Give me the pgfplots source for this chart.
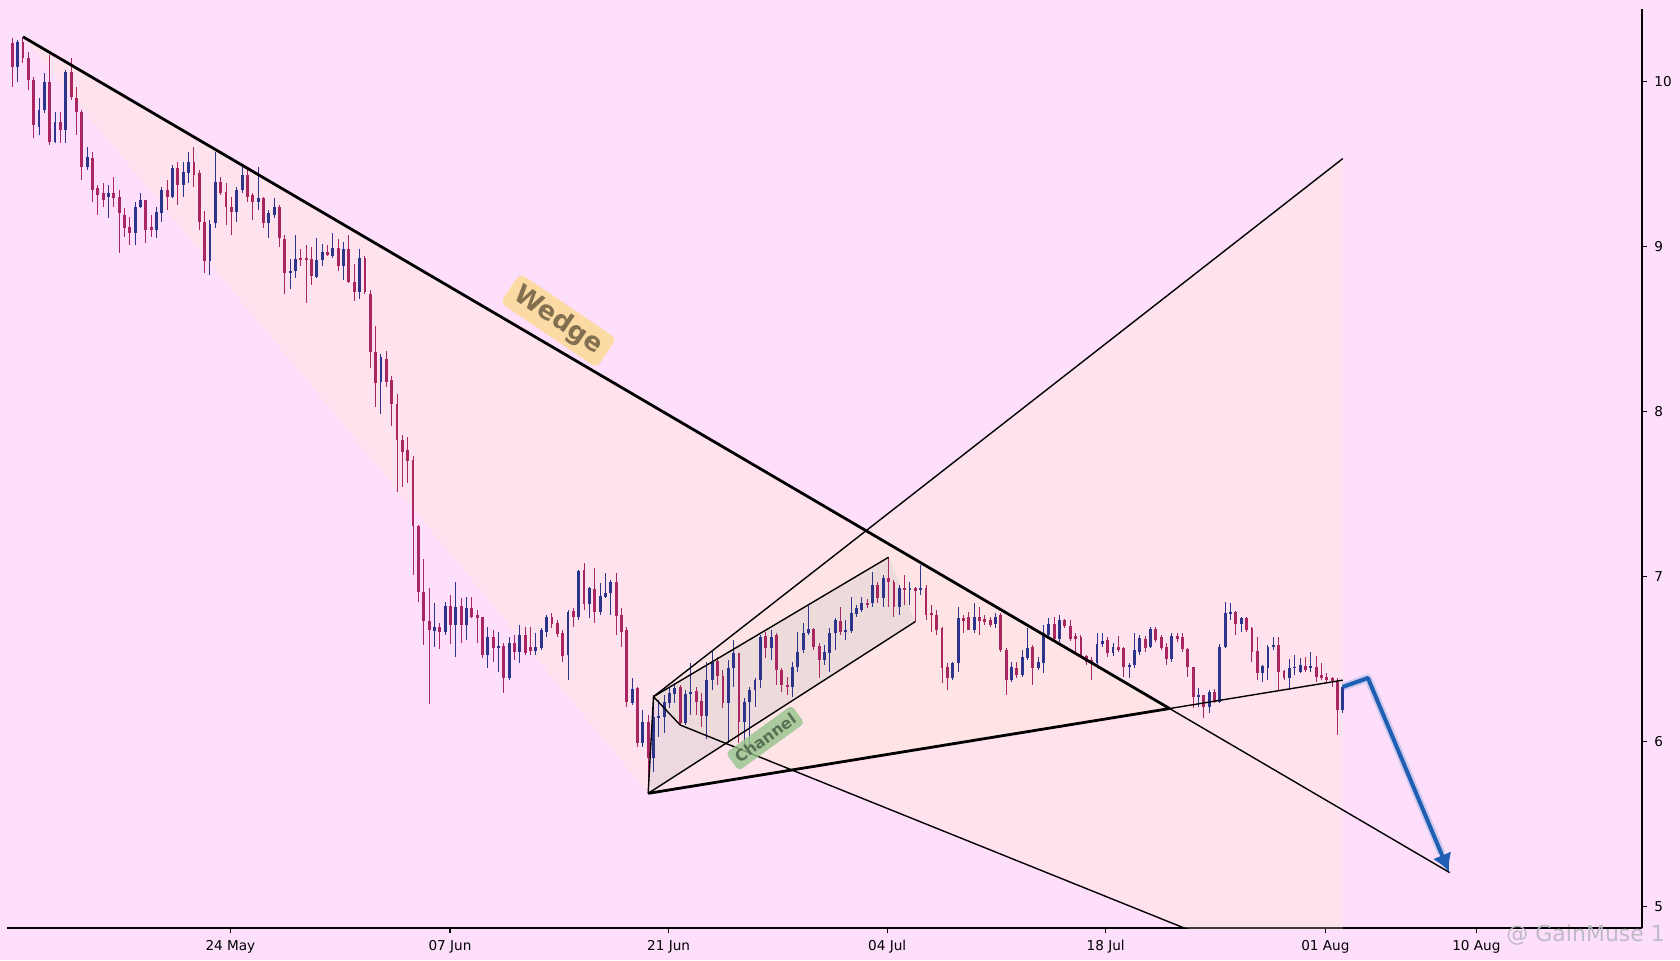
\documentclass[border=0pt]{standalone}
\usepackage{pgfplots}
\pgfplotsset{compat=1.18}
\usepackage{pgfplotstable}
\usepackage{fontspec}
\setmainfont{DejaVu Sans}
\usetikzlibrary{arrows.meta}

\definecolor{bg}{RGB}{254,223,251}
\definecolor{upc}{RGB}{45,52,140}
\definecolor{dnc}{RGB}{170,38,96}
\definecolor{wfill}{RGB}{255,235,200}
\definecolor{chfill}{RGB}{190,190,190}
\definecolor{arrowc}{RGB}{30,95,180}
\definecolor{wbox}{RGB}{252,218,155}
\definecolor{wtext}{RGB}{130,112,80}
\definecolor{cbox}{RGB}{150,196,140}
\definecolor{ctext}{RGB}{88,112,84}
\definecolor{wmc}{RGB}{185,183,195}

% 8h candles: index, open, high, low, close
\pgfplotstableread{
i o h l c
0 10.231 10.261 9.968 10.089
1 10.089 10.251 9.998 10.241
2 10.241 10.271 10.109 10.140
3 10.140 10.180 9.948 10.008
4 10.008 10.029 9.655 9.736
5 9.725 9.897 9.675 9.827
6 9.827 10.049 9.806 9.998
7 9.998 10.160 9.614 9.635
8 9.635 9.816 9.625 9.756
9 9.756 9.816 9.625 9.705
10 9.705 10.069 9.625 10.059
11 10.059 10.140 9.887 9.907
12 9.897 9.968 9.675 9.816
13 9.816 9.827 9.402 9.483
14 9.483 9.604 9.463 9.544
15 9.534 9.574 9.271 9.342
16 9.352 9.372 9.190 9.311
17 9.322 9.382 9.241 9.281
18 9.301 9.372 9.170 9.322
19 9.322 9.423 9.241 9.296
20 9.301 9.342 8.958 9.200
21 9.190 9.231 9.059 9.109
22 9.119 9.180 9.008 9.079
23 9.079 9.271 9.008 9.241
24 9.241 9.322 9.231 9.281
25 9.281 9.281 9.018 9.099
26 9.119 9.190 9.059 9.099
27 9.099 9.241 9.049 9.210
28 9.200 9.362 9.150 9.342
29 9.342 9.402 9.220 9.301
30 9.301 9.493 9.291 9.473
31 9.473 9.513 9.251 9.372
32 9.372 9.513 9.301 9.453
33 9.443 9.574 9.382 9.513
34 9.513 9.604 9.362 9.433
35 9.443 9.463 9.099 9.150
36 9.150 9.214 8.838 8.912
37 8.912 9.162 8.828 9.135
38 9.140 9.574 9.109 9.392
39 9.392 9.423 9.311 9.322
40 9.332 9.382 9.130 9.241
41 9.241 9.301 9.069 9.210
42 9.210 9.362 9.150 9.342
43 9.342 9.483 9.322 9.433
44 9.433 9.463 9.271 9.301
45 9.311 9.322 9.160 9.271
46 9.271 9.483 9.220 9.291
47 9.291 9.300 9.109 9.140
48 9.140 9.220 9.049 9.200
49 9.190 9.291 9.170 9.241
50 9.241 9.251 8.998 9.049
51 9.047 9.068 8.713 8.838
52 8.838 8.922 8.744 8.849
53 8.849 9.072 8.807 8.926
54 8.926 8.985 8.880 8.918
55 8.926 9.006 8.655 8.918
56 8.922 8.995 8.765 8.822
57 8.817 9.051 8.807 8.918
58 8.918 9.016 8.880 8.964
59 8.964 9.010 8.939 8.947
60 8.943 9.079 8.932 8.989
61 8.989 9.047 8.849 8.880
62 8.880 9.026 8.797 8.985
63 8.985 9.068 8.776 8.786
64 8.786 8.891 8.671 8.724
65 8.724 8.985 8.682 8.932
66 8.932 8.943 8.713 8.724
67 8.713 8.734 8.264 8.358
68 8.358 8.515 8.024 8.170
69 8.180 8.348 7.982 8.327
70 8.316 8.368 8.149 8.180
71 8.191 8.212 7.909 8.045
72 8.045 8.107 7.512 7.825
73 7.825 7.857 7.543 7.752
74 7.763 7.846 7.564 7.700
75 7.706 7.731 7.011 7.303
76 7.303 7.313 6.843 6.906
77 6.906 7.105 6.582 6.729
78 6.729 6.927 6.227 6.676
79 6.670 6.837 6.572 6.691
80 6.691 6.718 6.562 6.662
81 6.662 6.843 6.645 6.823
82 6.823 6.885 6.593 6.708
83 6.708 6.969 6.509 6.816
84 6.820 6.867 6.594 6.705
85 6.705 6.877 6.615 6.806
86 6.806 6.877 6.746 6.756
87 6.766 6.796 6.594 6.746
88 6.752 6.756 6.503 6.524
89 6.524 6.695 6.443 6.635
90 6.635 6.675 6.483 6.564
91 6.564 6.665 6.423 6.578
92 6.578 6.594 6.291 6.382
93 6.382 6.635 6.372 6.594
94 6.594 6.645 6.493 6.544
95 6.544 6.705 6.473 6.645
96 6.645 6.695 6.524 6.534
97 6.574 6.695 6.524 6.550
98 6.550 6.655 6.524 6.570
99 6.564 6.685 6.554 6.675
100 6.665 6.766 6.635 6.756
101 6.756 6.776 6.685 6.711
102 6.719 6.736 6.635 6.651
103 6.655 6.675 6.483 6.518
104 6.524 6.796 6.372 6.786
105 6.792 6.806 6.695 6.756
106 6.756 7.039 6.736 7.035
107 7.039 7.079 6.796 6.833
108 6.833 6.938 6.746 6.928
109 6.922 7.049 6.716 6.786
110 6.786 6.958 6.766 6.881
111 6.877 7.019 6.867 6.901
112 6.897 6.978 6.766 6.968
113 6.968 7.019 6.645 6.760
114 6.766 6.806 6.574 6.665
115 6.675 6.695 6.211 6.241
116 6.235 6.382 6.221 6.316
117 6.322 6.332 5.968 5.988
118 5.988 6.190 5.968 6.120
119 6.120 6.160 5.685 5.897
120 5.897 6.271 5.817 6.146
121 6.146 6.251 6.029 6.154
122 6.150 6.281 6.049 6.241
123 6.235 6.332 6.200 6.291
124 6.287 6.352 6.231 6.322
125 6.332 6.342 6.099 6.109
126 6.109 6.311 6.099 6.287
127 6.287 6.473 6.160 6.301
128 6.307 6.332 6.160 6.241
129 6.247 6.291 6.089 6.154
130 6.154 6.483 6.013 6.372
131 6.372 6.554 6.311 6.483
132 6.489 6.514 6.342 6.396
133 6.396 6.433 6.200 6.231
134 6.231 6.493 5.988 6.443
135 6.443 6.614 6.332 6.534
136 6.534 6.534 5.988 6.120
137 6.120 6.261 5.968 6.241
138 6.241 6.332 5.968 6.311
139 6.311 6.382 6.210 6.372
140 6.372 6.645 6.322 6.635
141 6.639 6.665 6.503 6.564
142 6.564 6.675 6.493 6.635
143 6.645 6.655 6.342 6.433
144 6.433 6.443 6.301 6.342
145 6.342 6.392 6.281 6.332
146 6.332 6.483 6.271 6.453
147 6.453 6.665 6.423 6.544
148 6.554 6.716 6.534 6.655
149 6.659 6.821 6.645 6.679
150 6.679 6.685 6.554 6.574
151 6.578 6.594 6.382 6.493
152 6.493 6.584 6.463 6.544
153 6.538 6.685 6.423 6.655
154 6.655 6.746 6.554 6.736
155 6.732 6.812 6.645 6.665
156 6.665 6.736 6.615 6.675
157 6.671 6.877 6.655 6.776
158 6.772 6.827 6.756 6.806
159 6.796 6.877 6.786 6.841
160 6.841 6.861 6.806 6.827
161 6.837 7.029 6.817 6.948
162 6.948 6.968 6.837 6.867
163 6.867 7.008 6.817 6.988
164 6.988 7.116 6.817 6.968
165 6.968 6.978 6.756 6.817
166 6.817 6.948 6.766 6.928
167 6.928 7.008 6.827 6.918
168 6.918 6.968 6.827 6.928
169 6.928 6.938 6.726 6.914
170 6.918 7.069 6.887 6.928
171 6.928 6.948 6.736 6.766
172 6.776 6.827 6.665 6.766
173 6.766 6.796 6.645 6.675
174 6.685 6.695 6.352 6.443
175 6.453 6.473 6.311 6.382
176 6.382 6.483 6.372 6.473
177 6.473 6.816 6.423 6.746
178 6.746 6.766 6.659 6.732
179 6.756 6.786 6.675 6.675
180 6.675 6.837 6.655 6.756
181 6.756 6.817 6.645 6.732
182 6.740 6.766 6.705 6.726
183 6.736 6.756 6.691 6.705
184 6.711 6.776 6.685 6.756
185 6.766 6.776 6.544 6.554
186 6.554 6.564 6.281 6.372
187 6.372 6.483 6.362 6.453
188 6.443 6.483 6.382 6.402
189 6.402 6.554 6.392 6.513
190 6.503 6.685 6.493 6.564
191 6.574 6.584 6.342 6.443
192 6.443 6.513 6.433 6.483
193 6.477 6.705 6.413 6.655
194 6.645 6.746 6.619 6.711
195 6.711 6.756 6.604 6.618
196 6.618 6.766 6.604 6.736
197 6.736 6.740 6.685 6.699
198 6.699 6.736 6.610 6.618
199 6.639 6.655 6.534 6.618
200 6.631 6.645 6.503 6.518
201 6.518 6.524 6.463 6.483
202 6.493 6.513 6.372 6.473
203 6.473 6.655 6.463 6.590
204 6.590 6.659 6.574 6.610
205 6.614 6.631 6.513 6.534
206 6.534 6.594 6.518 6.574
207 6.574 6.639 6.544 6.554
208 6.564 6.570 6.392 6.453
209 6.449 6.473 6.382 6.463
210 6.463 6.655 6.443 6.554
211 6.544 6.645 6.524 6.625
212 6.619 6.639 6.544 6.564
213 6.570 6.691 6.564 6.679
214 6.679 6.691 6.604 6.614
215 6.631 6.645 6.554 6.564
216 6.574 6.594 6.463 6.497
217 6.497 6.655 6.483 6.639
218 6.639 6.655 6.604 6.618
219 6.631 6.655 6.544 6.558
220 6.558 6.564 6.392 6.449
221 6.453 6.453 6.200 6.271
222 6.271 6.322 6.210 6.281
223 6.281 6.281 6.140 6.210
224 6.210 6.311 6.170 6.301
225 6.301 6.316 6.231 6.241
226 6.241 6.590 6.231 6.574
227 6.574 6.847 6.564 6.776
228 6.776 6.837 6.736 6.786
229 6.786 6.792 6.645 6.711
230 6.711 6.756 6.665 6.746
231 6.746 6.756 6.665 6.675
232 6.685 6.691 6.483 6.544
233 6.550 6.631 6.372 6.413
234 6.413 6.463 6.362 6.457
235 6.443 6.584 6.372 6.574
236 6.574 6.631 6.554 6.584
237 6.584 6.631 6.311 6.423
238 6.429 6.433 6.372 6.382
239 6.382 6.497 6.311 6.443
240 6.443 6.524 6.402 6.453
241 6.423 6.503 6.413 6.463
242 6.457 6.509 6.423 6.433
243 6.443 6.544 6.423 6.457
244 6.453 6.518 6.362 6.392
245 6.402 6.473 6.372 6.382
246 6.392 6.413 6.362 6.372
247 6.382 6.392 6.332 6.368
248 6.362 6.382 6.039 6.190
249 6.190 6.342 6.170 6.328
}\candles

\begin{document}
\begin{tikzpicture}
\fill[bg] (-3.5pt,-16pt) rectangle (836.5pt,464pt);
\begin{axis}[
    scale only axis,
    width=817.5pt, height=459.7pt,
    xmin=-0.99, xmax=305.0,
    ymin=4.869, ymax=10.441,
    axis x line*=bottom,
    axis y line*=right,
    axis line style={black, line width=0.65pt},
    tick align=outside,
    major tick length=2.7pt,
    tick style={black, line width=0.6pt},
    xtick={40.82,81.92,122.83,163.73,204.64,245.74,274.0},
    xticklabels={24 May,07 Jun,21 Jun,04 Jul,18 Jul,01 Aug,10 Aug},
    ytick={5,6,7,8,9,10},
    ticklabel style={font=\fontsize{6.8}{8}\selectfont, text=black},
    /pgf/number format/assume math mode=true,
    clip=true,
    candle/.style={only marks, mark size=0pt,
        mark options={draw opacity=0, fill opacity=0}, forget plot,
        error bars/y dir=both, error bars/y explicit,
        error bars/error mark=none},
]

% shaded zones
\addplot[draw=none, fill=wfill, fill opacity=0.25, forget plot]
    coordinates {(2,10.27) (119,5.685) (216.59,6.199)} -- cycle;
\addplot[draw=none, fill=wfill, fill opacity=0.25, forget plot]
    coordinates {(120,6.271) (249,9.532) (249,4.482) (125,6.099)} -- cycle;
\addplot[draw=none, fill=chfill, fill opacity=0.25, forget plot]
    coordinates {(120,6.271) (164,7.116) (169,6.726) (119,5.685)} -- cycle;

% candles: wicks
\addplot[candle, error bars/error bar style={line width=0.5pt, draw=upc}]
    table[x=i, y expr={\thisrow{c}>=\thisrow{o} ? (\thisrow{h}+\thisrow{l})/2 : nan},
          y error expr={(\thisrow{h}-\thisrow{l})/2}] {\candles};
\addplot[candle, error bars/error bar style={line width=0.5pt, draw=dnc}]
    table[x=i, y expr={\thisrow{c}<\thisrow{o} ? (\thisrow{h}+\thisrow{l})/2 : nan},
          y error expr={(\thisrow{h}-\thisrow{l})/2}] {\candles};
% candles: bodies
\addplot[candle, error bars/error bar style={line width=1.45pt, draw=upc}]
    table[x=i, y expr={\thisrow{c}>=\thisrow{o} ? (\thisrow{o}+\thisrow{c})/2 : nan},
          y error expr={max(abs(\thisrow{c}-\thisrow{o})/2,0.005)}] {\candles};
\addplot[candle, error bars/error bar style={line width=1.45pt, draw=dnc}]
    table[x=i, y expr={\thisrow{c}<\thisrow{o} ? (\thisrow{o}+\thisrow{c})/2 : nan},
          y error expr={max(abs(\thisrow{c}-\thisrow{o})/2,0.005)}] {\candles};

% pattern lines
\addplot[black, line width=1.4pt, forget plot] coordinates {(2,10.27) (216.59,6.199)};
\addplot[black, line width=1.4pt, forget plot] coordinates {(119,5.685) (216.59,6.199)};
\addplot[black, line width=0.7pt, forget plot] coordinates {(216.59,6.199) (269,5.205)};
\addplot[black, line width=0.7pt, forget plot] coordinates {(216.59,6.199) (249,6.371)};
\addplot[black, line width=0.7pt, forget plot] coordinates {(120,6.271) (249,9.532)};
\addplot[black, line width=0.7pt, forget plot] coordinates {(125,6.099) (249,4.482)};
\addplot[black, line width=0.7pt, forget plot] coordinates {(120,6.271) (164,7.116)};
\addplot[black, line width=0.7pt, forget plot] coordinates {(119,5.685) (169,6.726)};
\addplot[black, line width=0.7pt, forget plot] coordinates {(119,5.685) (120,6.271) (125,6.099)};

% projected move
\addplot[arrowc!60, line width=4pt, opacity=0.35, line join=round, forget plot]
    coordinates {(249,6.33) (253.7,6.384) (267.5,5.32)};
\addplot[arrowc, line width=2pt, line join=round, -{Latex[length=9pt,width=10pt]}, forget plot]
    coordinates {(249,6.33) (253.7,6.384) (268.9,5.208)};

% labels
\node[rotate=-34, fill=wbox, fill opacity=0.9, text opacity=1, text=wtext,
      rounded corners=3pt, inner xsep=4pt, inner ysep=2.5pt,
      font=\fontsize{13}{15}\selectfont\bfseries] at (102.2,8.55) {Wedge};
\node[rotate=36, fill=cbox, fill opacity=0.8, text opacity=1, text=ctext,
      rounded corners=2pt, inner xsep=2.5pt, inner ysep=2.5pt,
      font=\fontsize{7.8}{9}\selectfont\bfseries] at (140.9,6.02) {Channel};
\end{axis}
\node[anchor=east, text=wmc, opacity=0.9, font=\fontsize{11}{13}\selectfont]
    at (832.5pt,-3.5pt) {@ GainMuse 1};
\end{tikzpicture}
\end{document}
